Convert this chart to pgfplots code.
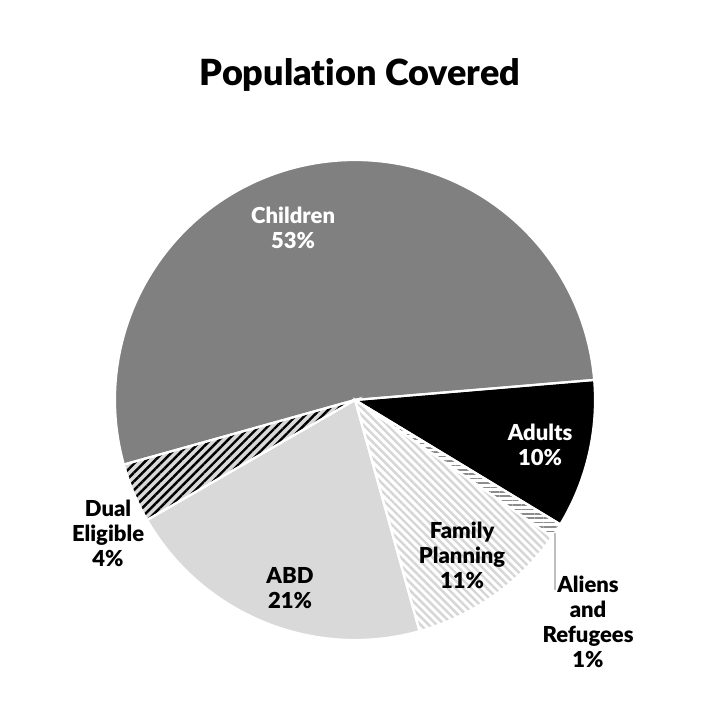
\documentclass[border=0pt]{standalone}
\usepackage{fontspec}
\setmainfont{Lato}[Ligatures={NoCommon}, BoldFont={Lato Black}]
\usepackage{pgfplots}
\usepackage{pgfplotstable}
\pgfplotsset{compat=1.18}
\usetikzlibrary{patterns.meta}
\definecolor{childgray}{HTML}{808080}
\definecolor{abdgray}{HTML}{D9D9D9}
\definecolor{stripegray}{HTML}{D6D6D6}
\definecolor{leadergray}{HTML}{BFBFBF}

\pgfplotstableread{
label value
Children 53
Adults 10
Aliens 1
Family 11
ABD 21
Dual 4
}\piedata

\pgfplotstablegetelem{0}{value}\of\piedata \let\vA\pgfplotsretval
\pgfplotstablegetelem{1}{value}\of\piedata \let\vB\pgfplotsretval
\pgfplotstablegetelem{2}{value}\of\piedata \let\vC\pgfplotsretval
\pgfplotstablegetelem{3}{value}\of\piedata \let\vD\pgfplotsretval
\pgfplotstablegetelem{4}{value}\of\piedata \let\vE\pgfplotsretval
\pgfplotstablegetelem{5}{value}\of\piedata \let\vF\pgfplotsretval
\pgfmathsetmacro\aA{195.6}
\pgfmathsetmacro\aB{\aA-3.6*\vA}
\pgfmathsetmacro\aC{\aB-3.6*\vB}
\pgfmathsetmacro\aD{\aC-3.6*\vC}
\pgfmathsetmacro\aE{\aD-3.6*\vD}
\pgfmathsetmacro\aF{\aE-3.6*\vE}
\pgfmathsetmacro\aG{\aF-3.6*\vF}

\newcommand{\slice}[3]{%
  \path[#3] (axis cs:0,0) -- (axis cs:{cos(#1)},{sin(#1)}) arc[start angle=#1, end angle=#2, radius=120pt] -- cycle;}

\begin{document}
\begin{tikzpicture}
\begin{axis}[
  x=120pt, y=120pt, scale only axis,
  xmin=-1.4792, xmax=1.4583, ymin=-1.2625, ymax=1.6667,
  hide axis, clip=false,
]
\path (rel axis cs:0,0) rectangle (rel axis cs:1,1);
% Children
\slice{\aA}{\aB}{fill=childgray}
% Adults
\slice{\aB}{\aC}{fill=black}
% Aliens and Refugees
\slice{\aC}{\aD}{fill=white}
\slice{\aC}{\aD}{pattern={Lines[angle=0,distance=2.2pt,line width=0.8pt]}, pattern color=black!45}
% Family planning
\slice{\aD}{\aE}{fill=white}
\slice{\aD}{\aE}{pattern={Lines[angle=-45,distance=2.8pt,line width=1.2pt]}, pattern color=stripegray}
% ABD
\slice{\aE}{\aF}{fill=abdgray}
% Dual eligible
\slice{\aF}{\aG}{fill=abdgray}
\slice{\aF}{\aG}{pattern={Lines[angle=45,distance=3.1pt,line width=1.2pt]}, pattern color=black}
% white borders
\slice{\aA}{\aB}{draw=white, line width=1.1pt}
\slice{\aB}{\aC}{draw=white, line width=1.1pt}
\slice{\aC}{\aD}{draw=white, line width=1.1pt}
\slice{\aD}{\aE}{draw=white, line width=1.1pt}
\slice{\aE}{\aF}{draw=white, line width=1.1pt}
\slice{\aF}{\aG}{draw=white, line width=1.1pt}
% leader line
\draw[leadergray, line width=0.8pt] (axis cs:0.833,-0.555) -- (axis cs:0.833,-0.79);
% labels
\begin{scope}[every node/.style={font=\bfseries\fontsize{11}{12.5}\selectfont, align=center}]
\node[text=white] at (axis cs:-0.258,0.717) {Children\\53\%};
\node[text=white] at (axis cs:0.771,-0.188) {Adults\\10\%};
\node at (axis cs:0.446,-0.646) {Family\\Planning\\11\%};
\node at (axis cs:0.971,-0.925) {Aliens\\and\\Refugees\\1\%};
\node at (axis cs:-0.271,-0.783) {ABD\\21\%};
\node at (axis cs:-1.029,-0.554) {Dual\\Eligible\\4\%};
\end{scope}
\node[font=\bfseries\fontsize{18}{22}\selectfont] at (axis cs:0.021,1.354) {Population Covered};
\end{axis}
\end{tikzpicture}
\end{document}
